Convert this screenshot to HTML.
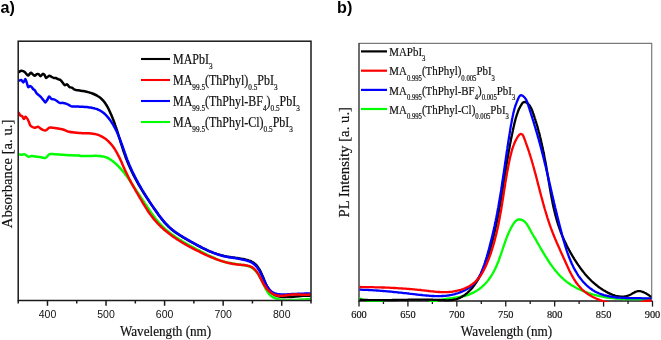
<!DOCTYPE html><html><head><meta charset="utf-8"><title>Absorbance and PL spectra</title><style>html,body{margin:0;padding:0;background:#fff;overflow:hidden;}svg{display:block;will-change:transform;}text[font-family^="Liberation Serif"]{stroke:#111;stroke-width:0.2px;}</style></head><body>
<svg width="661" height="340" viewBox="0 0 661 340">
<rect width="661" height="340" fill="#fff"/>
<text transform="translate(0.45,12.7) scale(0.95,1)" font-family="Liberation Sans, sans-serif" font-weight="bold" font-size="17" fill="#000">a)</text>
<text transform="translate(337.05,12.7) scale(0.95,1)" font-family="Liberation Sans, sans-serif" font-weight="bold" font-size="17" fill="#000">b)</text>
<defs><clipPath id="ca"><rect x="18.5" y="41.5" width="292" height="258.3"/></clipPath><clipPath id="cb"><rect x="359.5" y="43.5" width="292" height="258.4"/></clipPath></defs>
<g clip-path="url(#ca)">
<path d="M18.00,154.50 C18.13,154.50 18.33,154.47 18.90,154.50 C19.47,154.53 20.93,154.71 21.80,154.70 C22.67,154.69 23.68,154.10 24.70,154.40 C25.72,154.70 27.58,156.46 28.60,156.70 C29.62,156.94 30.48,156.03 31.50,156.00 C32.52,155.97 34.09,156.35 35.40,156.50 C36.70,156.65 38.67,156.79 40.20,157.00 C41.73,157.21 44.20,158.34 45.60,157.90 C47.00,157.47 48.12,154.64 49.50,154.10 C50.88,153.56 52.83,154.21 54.80,154.30 C56.77,154.39 60.27,154.56 62.60,154.70 C64.92,154.83 67.77,155.08 70.30,155.20 C72.83,155.32 78.12,155.45 79.50,155.50 L79.5,155.7L80.7,155.9L81.9,156.0L83.1,156.0L84.3,156.1L85.5,156.1L86.7,156.1L87.9,156.0L89.1,156.0L90.3,155.9L91.5,155.9L92.8,155.9L94.0,155.8L95.2,155.8L96.4,155.8L97.6,155.9L98.8,155.9L100.0,156.0L101.2,156.2L102.4,156.4L103.6,156.6L104.7,156.9L105.9,157.3L107.0,157.7L108.1,158.2L109.2,158.8L110.2,159.4L111.2,160.1L112.2,160.8L113.1,161.5L114.1,162.3L115.0,163.1L115.9,163.9L116.8,164.7L117.7,165.5L118.5,166.4L119.3,167.3L120.2,168.1L121.0,169.0L121.8,170.0L122.5,170.9L123.3,171.8L124.1,172.8L124.8,173.7L125.5,174.7L126.2,175.6L127.0,176.6L127.7,177.6L128.4,178.6L129.1,179.6L129.7,180.6L130.4,181.6L131.1,182.6L131.8,183.6L132.4,184.6L133.1,185.6L133.8,186.6L134.4,187.6L135.1,188.6L135.8,189.6L136.4,190.6L137.1,191.6L137.8,192.6L138.4,193.6L139.1,194.6L139.8,195.6L140.4,196.6L141.1,197.6L141.8,198.7L142.4,199.7L143.1,200.7L143.8,201.7L144.4,202.7L145.1,203.7L145.8,204.7L146.5,205.7L147.1,206.7L147.8,207.7L148.5,208.7L149.2,209.7L149.8,210.7L150.5,211.7L151.2,212.7L151.9,213.6L152.6,214.6L153.3,215.6L154.0,216.6L154.8,217.5L155.5,218.5L156.2,219.5L157.0,220.4L157.8,221.3L158.5,222.2L159.3,223.2L160.2,224.0L161.0,224.9L161.8,225.8L162.7,226.6L163.5,227.5L164.4,228.3L165.3,229.1L166.2,229.9L167.2,230.7L168.1,231.5L169.0,232.2L170.0,233.0L170.9,233.7L171.9,234.4L172.9,235.1L173.9,235.8L174.9,236.5L175.8,237.2L176.9,237.9L177.9,238.5L178.9,239.2L179.9,239.8L180.9,240.4L182.0,241.1L183.0,241.7L184.0,242.3L185.1,242.9L186.1,243.5L187.2,244.1L188.2,244.7L189.3,245.3L190.3,245.9L191.4,246.4L192.5,247.0L193.5,247.6L194.6,248.2L195.7,248.7L196.7,249.3L197.8,249.9L198.9,250.4L199.9,251.0L201.0,251.5L202.1,252.1L203.1,252.7L204.2,253.2L205.3,253.8L206.3,254.3L207.4,254.9L208.5,255.4L209.6,256.0L210.7,256.5L211.8,257.0L212.9,257.5L214.0,258.0L215.1,258.5L216.2,259.0L217.3,259.4L218.4,259.8L219.6,260.3L220.7,260.7L221.8,261.0L223.0,261.4L224.1,261.7L225.3,262.1L226.5,262.4L227.7,262.6L228.8,262.9L230.0,263.1L231.2,263.3L232.4,263.5L233.6,263.7L234.8,263.9L236.0,264.1L237.2,264.3L238.4,264.4L239.6,264.6L240.8,264.8L242.0,264.9L243.1,265.1L244.3,265.3L245.5,265.5L246.7,265.7L247.9,266.0L249.0,266.4L250.1,266.9L251.2,267.4L252.3,268.0L253.3,268.7L254.2,269.5L255.1,270.3L255.9,271.2L256.7,272.1L257.4,273.1L258.1,274.0L258.8,275.1L259.4,276.1L260.0,277.1L260.6,278.2L261.1,279.3L261.7,280.3L262.2,281.4L262.7,282.5L263.2,283.6L263.7,284.7L264.2,285.8L264.8,286.9L265.3,288.0L265.9,289.0L266.4,290.1L267.1,291.1L267.7,292.1L268.4,293.1L269.2,294.1L270.0,294.9L270.9,295.7L271.9,296.5L272.9,297.1L273.9,297.7L275.0,298.2L276.2,298.7L277.3,299.0L278.5,299.3L279.7,299.6L280.9,299.8L282.0,299.9L283.3,300.0L284.5,300.1L285.7,300.2L286.9,300.2L288.1,300.2L289.3,300.2L290.5,300.2L291.7,300.2L292.9,300.1L294.1,300.1L295.3,300.0L296.5,299.9L297.7,299.9L298.9,299.8L300.1,299.7L301.3,299.6L302.5,299.6L303.7,299.5L305.0,299.4L306.2,299.3L307.4,299.3L308.6,299.2L309.8,299.2L311.0,299.1" stroke="#0f0" stroke-width="2.5" fill="none" stroke-linejoin="round" stroke-linecap="round"/>
<path d="M18.00,72.20 C18.12,72.17 18.32,72.21 18.80,72.00 C19.28,71.79 20.55,70.94 21.20,70.80 C21.84,70.66 22.55,70.88 23.10,71.10 C23.66,71.32 24.34,71.80 24.90,72.30 C25.45,72.80 26.30,73.92 26.80,74.40 C27.30,74.88 27.70,75.65 28.20,75.50 C28.70,75.35 29.67,73.82 30.10,73.40 C30.54,72.98 30.68,72.55 31.10,72.70 C31.52,72.85 32.34,73.94 32.90,74.40 C33.45,74.87 34.23,75.83 34.80,75.80 C35.37,75.77 36.13,74.44 36.70,74.20 C37.27,73.96 38.03,73.90 38.60,74.20 C39.17,74.50 39.87,76.25 40.50,76.20 C41.13,76.16 42.17,74.07 42.80,73.90 C43.43,73.73 44.21,74.50 44.70,75.10 C45.20,75.70 45.43,77.80 46.10,77.90 C46.77,78.01 48.39,75.97 49.20,75.80 C50.01,75.63 50.80,76.47 51.50,76.80 C52.20,77.13 53.25,77.82 53.90,78.00 C54.55,78.18 55.17,77.82 55.80,78.00 C56.43,78.18 57.40,78.92 58.10,79.20 C58.80,79.48 59.86,79.45 60.50,79.90 C61.14,80.35 61.77,81.42 62.40,82.20 C63.03,82.98 64.00,84.78 64.70,85.10 C65.41,85.41 66.39,84.03 67.10,84.30 C67.80,84.57 68.70,86.39 69.40,86.90 C70.11,87.41 71.09,87.34 71.80,87.70 C72.50,88.06 73.47,88.95 74.10,89.30 C74.73,89.64 75.72,89.89 76.00,90.00 L76.0,90.0L77.2,90.2L78.4,90.3L79.6,90.5L80.8,90.7L82.0,90.9L83.2,91.1L84.4,91.3L85.6,91.5L86.7,91.8L87.9,92.1L89.1,92.4L90.2,92.8L91.4,93.1L92.5,93.5L93.6,94.0L94.7,94.5L95.8,95.0L96.9,95.5L97.9,96.2L98.9,96.8L99.9,97.5L100.9,98.3L101.7,99.1L102.6,100.0L103.4,100.9L104.2,101.8L104.9,102.8L105.6,103.8L106.2,104.8L106.9,105.8L107.5,106.8L108.0,107.9L108.6,109.0L109.1,110.1L109.6,111.2L110.1,112.3L110.6,113.4L111.1,114.5L111.6,115.6L112.0,116.7L112.5,117.8L112.9,118.9L113.4,120.1L113.8,121.2L114.2,122.3L114.6,123.4L115.0,124.6L115.4,125.7L115.8,126.9L116.2,128.0L116.6,129.2L117.0,130.3L117.3,131.5L117.7,132.6L118.1,133.8L118.4,134.9L118.8,136.1L119.1,137.2L119.5,138.4L119.9,139.5L120.2,140.7L120.6,141.8L120.9,143.0L121.3,144.1L121.7,145.3L122.0,146.4L122.4,147.6L122.8,148.7L123.1,149.9L123.5,151.0L123.9,152.2L124.3,153.3L124.7,154.4L125.1,155.6L125.5,156.7L125.9,157.8L126.3,159.0L126.8,160.1L127.2,161.2L127.7,162.3L128.1,163.5L128.6,164.6L129.1,165.7L129.6,166.8L130.1,167.9L130.6,169.0L131.1,170.1L131.6,171.2L132.1,172.2L132.7,173.3L133.2,174.4L133.7,175.5L134.3,176.6L134.9,177.6L135.4,178.7L136.0,179.7L136.6,180.8L137.2,181.9L137.7,182.9L138.3,184.0L138.9,185.0L139.6,186.1L140.2,187.1L140.8,188.1L141.4,189.2L142.0,190.2L142.7,191.2L143.3,192.3L143.9,193.3L144.6,194.3L145.2,195.3L145.9,196.3L146.5,197.3L147.2,198.4L147.9,199.4L148.5,200.4L149.2,201.4L149.9,202.4L150.5,203.4L151.2,204.4L151.9,205.4L152.6,206.4L153.3,207.4L153.9,208.4L154.6,209.3L155.3,210.3L156.0,211.3L156.7,212.3L157.4,213.3L158.1,214.3L158.8,215.2L159.5,216.2L160.3,217.2L161.0,218.1L161.7,219.1L162.5,220.0L163.3,221.0L164.0,221.9L164.8,222.8L165.6,223.7L166.5,224.6L167.3,225.4L168.2,226.3L169.0,227.1L169.9,227.9L170.8,228.7L171.8,229.5L172.7,230.3L173.6,231.0L174.6,231.7L175.6,232.5L176.6,233.2L177.6,233.8L178.6,234.5L179.6,235.2L180.6,235.8L181.6,236.4L182.7,237.1L183.7,237.7L184.7,238.3L185.8,238.9L186.8,239.5L187.9,240.1L188.9,240.7L190.0,241.3L191.0,241.9L192.1,242.4L193.1,243.0L194.2,243.6L195.3,244.2L196.3,244.8L197.4,245.3L198.5,245.9L199.5,246.5L200.6,247.0L201.7,247.5L202.8,248.1L203.8,248.6L204.9,249.1L206.0,249.6L207.1,250.1L208.2,250.6L209.3,251.1L210.4,251.6L211.6,252.0L212.7,252.5L213.8,252.9L215.0,253.3L216.1,253.7L217.2,254.1L218.4,254.4L219.5,254.8L220.7,255.1L221.9,255.4L223.0,255.7L224.2,256.0L225.4,256.2L226.6,256.5L227.8,256.7L229.0,256.9L230.2,257.1L231.3,257.3L232.5,257.4L233.7,257.6L234.9,257.8L236.1,257.9L237.3,258.1L238.5,258.3L239.7,258.5L240.9,258.7L242.1,258.9L243.3,259.1L244.5,259.3L245.6,259.6L246.8,259.9L248.0,260.2L249.1,260.6L250.3,261.0L251.4,261.5L252.4,262.0L253.5,262.7L254.4,263.4L255.3,264.2L256.2,265.0L257.0,265.9L257.7,266.9L258.4,267.9L259.1,268.9L259.7,269.9L260.3,271.0L260.8,272.1L261.3,273.2L261.8,274.3L262.3,275.4L262.8,276.5L263.2,277.6L263.7,278.7L264.1,279.8L264.6,280.9L265.1,282.1L265.5,283.2L266.0,284.3L266.6,285.4L267.1,286.4L267.7,287.5L268.3,288.5L268.9,289.5L269.6,290.5L270.4,291.5L271.2,292.4L272.1,293.2L273.1,293.9L274.1,294.6L275.1,295.1L276.2,295.6L277.4,296.0L278.5,296.3L279.7,296.6L280.9,296.8L282.1,296.9L283.3,297.0L284.5,297.1L285.7,297.1L286.9,297.1L288.1,297.1L289.3,297.1L290.5,297.0L291.8,296.9L293.0,296.8L294.2,296.7L295.4,296.6L296.6,296.4L297.8,296.3L299.0,296.2L300.2,296.0L301.4,295.9L302.6,295.8L303.8,295.8L305.0,295.7L306.2,295.7L307.4,295.7L308.6,295.7L309.8,295.7L311.0,295.8" stroke="#000" stroke-width="2.5" fill="none" stroke-linejoin="round" stroke-linecap="round"/>
<path d="M18.00,80.80 C18.12,80.80 18.32,80.92 18.80,80.80 C19.28,80.68 20.50,79.76 21.20,80.00 C21.90,80.24 22.87,82.54 23.50,82.40 C24.13,82.27 24.90,79.04 25.40,79.10 C25.89,79.16 26.38,81.60 26.80,82.80 C27.22,84.00 27.70,86.60 28.20,87.10 C28.70,87.59 29.53,86.04 30.10,86.10 C30.67,86.16 31.50,87.00 32.00,87.50 C32.49,88.00 32.98,89.00 33.40,89.40 C33.82,89.81 34.38,89.70 34.80,90.20 C35.22,90.70 35.71,92.04 36.20,92.70 C36.70,93.36 37.45,94.02 38.10,94.60 C38.75,95.18 39.93,96.06 40.50,96.60 C41.07,97.14 41.41,97.62 41.90,98.20 C42.39,98.78 43.27,99.87 43.80,100.50 C44.32,101.13 44.89,102.48 45.40,102.40 C45.91,102.33 46.63,100.89 47.20,100.00 C47.77,99.11 48.59,96.68 49.20,96.50 C49.82,96.32 50.55,98.36 51.30,98.80 C52.05,99.23 53.32,99.04 54.20,99.40 C55.09,99.76 56.41,100.67 57.20,101.20 C58.00,101.73 58.62,102.65 59.50,102.90 C60.38,103.16 62.04,102.75 63.10,102.90 C64.17,103.05 65.64,103.54 66.60,103.90 C67.56,104.26 68.70,104.91 69.50,105.30 C70.30,105.69 70.93,106.32 71.90,106.50 C72.88,106.68 75.39,106.50 76.00,106.50 L76.0,106.6L77.2,106.6L78.4,106.6L79.6,106.7L80.8,106.7L82.0,106.8L83.2,106.8L84.4,106.9L85.7,107.0L86.9,107.1L88.1,107.2L89.3,107.4L90.5,107.5L91.6,107.7L92.8,108.0L94.0,108.2L95.2,108.6L96.3,108.9L97.5,109.3L98.6,109.8L99.7,110.3L100.7,110.9L101.7,111.6L102.7,112.2L103.7,113.0L104.6,113.8L105.5,114.6L106.3,115.5L107.1,116.4L107.9,117.3L108.7,118.2L109.4,119.2L110.1,120.1L110.8,121.1L111.5,122.1L112.1,123.1L112.8,124.2L113.4,125.2L114.0,126.3L114.6,127.3L115.1,128.4L115.7,129.5L116.2,130.5L116.7,131.6L117.2,132.7L117.7,133.8L118.2,134.9L118.7,136.1L119.1,137.2L119.6,138.3L120.0,139.4L120.4,140.6L120.8,141.7L121.2,142.8L121.7,144.0L122.1,145.1L122.5,146.2L122.9,147.4L123.3,148.5L123.7,149.7L124.1,150.8L124.5,151.9L124.9,153.1L125.3,154.2L125.7,155.3L126.1,156.5L126.5,157.6L126.9,158.7L127.3,159.9L127.8,161.0L128.2,162.1L128.7,163.2L129.1,164.3L129.6,165.5L130.1,166.6L130.6,167.7L131.1,168.8L131.6,169.9L132.1,171.0L132.6,172.1L133.1,173.1L133.7,174.2L134.2,175.3L134.7,176.4L135.3,177.5L135.8,178.5L136.4,179.6L137.0,180.7L137.6,181.7L138.1,182.8L138.7,183.8L139.3,184.9L139.9,185.9L140.5,187.0L141.1,188.0L141.7,189.1L142.3,190.1L143.0,191.1L143.6,192.2L144.2,193.2L144.9,194.2L145.5,195.3L146.1,196.3L146.8,197.3L147.4,198.3L148.1,199.3L148.8,200.3L149.4,201.3L150.1,202.4L150.8,203.4L151.4,204.4L152.1,205.4L152.8,206.4L153.5,207.4L154.2,208.3L154.8,209.3L155.5,210.3L156.2,211.3L156.9,212.3L157.6,213.3L158.3,214.3L159.0,215.2L159.8,216.2L160.5,217.2L161.2,218.1L162.0,219.1L162.7,220.0L163.5,220.9L164.3,221.9L165.1,222.8L165.9,223.7L166.7,224.5L167.6,225.4L168.4,226.3L169.3,227.1L170.2,227.9L171.1,228.7L172.0,229.5L173.0,230.2L173.9,231.0L174.9,231.7L175.9,232.4L176.9,233.1L177.9,233.7L178.9,234.4L179.9,235.1L180.9,235.7L181.9,236.3L183.0,237.0L184.0,237.6L185.1,238.2L186.1,238.8L187.1,239.4L188.2,240.0L189.2,240.6L190.3,241.2L191.3,241.8L192.4,242.4L193.4,243.0L194.5,243.6L195.5,244.2L196.6,244.7L197.7,245.3L198.7,245.9L199.8,246.5L200.9,247.0L201.9,247.6L203.0,248.1L204.1,248.7L205.2,249.2L206.3,249.7L207.3,250.3L208.4,250.8L209.5,251.3L210.6,251.7L211.8,252.2L212.9,252.7L214.0,253.1L215.1,253.5L216.3,253.9L217.4,254.3L218.6,254.7L219.7,255.0L220.9,255.4L222.0,255.7L223.2,256.0L224.4,256.3L225.6,256.5L226.7,256.8L227.9,257.0L229.1,257.2L230.3,257.4L231.5,257.6L232.7,257.8L233.9,258.0L235.1,258.1L236.3,258.3L237.5,258.5L238.7,258.7L239.8,258.9L241.0,259.2L242.2,259.4L243.4,259.7L244.6,259.9L245.7,260.3L246.9,260.6L248.0,261.0L249.2,261.4L250.3,261.9L251.4,262.4L252.4,263.0L253.4,263.7L254.3,264.4L255.2,265.3L256.1,266.1L256.9,267.0L257.6,268.0L258.3,269.0L259.0,270.0L259.6,271.0L260.1,272.1L260.7,273.2L261.2,274.2L261.8,275.3L262.3,276.4L262.8,277.5L263.3,278.6L263.8,279.7L264.3,280.8L264.8,281.9L265.3,283.0L265.8,284.1L266.4,285.1L267.0,286.2L267.7,287.2L268.4,288.2L269.1,289.2L269.9,290.1L270.8,290.9L271.7,291.7L272.7,292.3L273.8,292.9L274.9,293.4L276.0,293.7L277.2,294.0L278.4,294.2L279.6,294.3L280.8,294.4L282.0,294.5L283.2,294.5L284.4,294.5L285.6,294.5L286.8,294.4L288.0,294.3L289.3,294.3L290.5,294.2L291.7,294.1L292.9,294.1L294.1,294.0L295.3,293.9L296.5,293.9L297.7,293.8L298.9,293.8L300.1,293.8L301.3,293.7L302.5,293.7L303.7,293.7L304.9,293.6L306.1,293.6L307.3,293.6L308.6,293.6L309.8,293.6L311.0,293.6" stroke="#00f" stroke-width="2.5" fill="none" stroke-linejoin="round" stroke-linecap="round"/>
<path d="M18.00,112.60 C18.12,112.64 18.47,112.50 18.80,112.90 C19.13,113.31 19.70,114.80 20.20,115.30 C20.70,115.80 21.53,115.63 22.10,116.20 C22.67,116.77 23.50,119.02 24.00,119.10 C24.50,119.17 24.90,116.78 25.40,116.70 C25.89,116.62 26.80,117.89 27.30,118.60 C27.80,119.30 28.28,120.41 28.70,121.40 C29.12,122.39 29.61,124.39 30.10,125.20 C30.60,126.01 31.36,126.42 32.00,126.80 C32.64,127.17 33.77,127.62 34.40,127.70 C35.03,127.78 35.65,127.44 36.20,127.30 C36.76,127.16 37.45,126.62 38.10,126.80 C38.75,126.98 39.80,128.03 40.50,128.50 C41.20,128.97 42.09,129.59 42.80,129.90 C43.50,130.22 44.55,130.67 45.20,130.60 C45.85,130.53 46.61,129.76 47.10,129.40 C47.59,129.04 48.05,128.47 48.50,128.20 C48.95,127.93 49.16,127.64 50.10,127.60 C51.05,127.55 53.39,127.72 54.80,127.90 C56.21,128.08 58.26,128.56 59.50,128.80 C60.74,129.04 61.68,129.05 63.10,129.50 C64.53,129.95 67.06,131.32 69.00,131.80 C70.94,132.28 74.95,132.56 76.00,132.70 L76.0,132.7L77.2,132.8L78.4,133.0L79.6,133.1L80.8,133.1L82.0,133.2L83.2,133.2L84.4,133.2L85.7,133.2L86.9,133.3L88.1,133.3L89.3,133.3L90.5,133.4L91.7,133.5L92.9,133.7L94.1,133.9L95.3,134.1L96.5,134.4L97.6,134.7L98.7,135.1L99.9,135.6L101.0,136.1L102.0,136.7L103.1,137.3L104.1,137.9L105.1,138.6L106.1,139.3L107.0,140.1L107.9,140.9L108.8,141.7L109.6,142.6L110.5,143.5L111.3,144.4L112.0,145.3L112.8,146.3L113.5,147.2L114.2,148.2L114.8,149.2L115.5,150.3L116.1,151.3L116.7,152.4L117.3,153.4L117.8,154.5L118.4,155.6L118.9,156.6L119.5,157.7L120.0,158.8L120.5,159.9L121.0,161.0L121.5,162.1L122.0,163.2L122.4,164.3L122.9,165.4L123.4,166.6L123.9,167.7L124.4,168.8L124.9,169.9L125.4,171.0L125.9,172.1L126.4,173.2L127.0,174.2L127.5,175.3L128.0,176.4L128.6,177.5L129.1,178.6L129.7,179.6L130.2,180.7L130.8,181.8L131.4,182.9L131.9,183.9L132.5,185.0L133.1,186.0L133.7,187.1L134.3,188.2L134.9,189.2L135.5,190.3L136.1,191.3L136.7,192.4L137.3,193.4L137.9,194.4L138.5,195.5L139.1,196.5L139.7,197.6L140.3,198.6L141.0,199.7L141.6,200.7L142.2,201.7L142.8,202.8L143.4,203.8L144.1,204.8L144.7,205.9L145.3,206.9L146.0,207.9L146.6,208.9L147.3,210.0L148.0,211.0L148.6,212.0L149.3,213.0L150.0,214.0L150.7,214.9L151.4,215.9L152.2,216.9L152.9,217.8L153.6,218.8L154.4,219.7L155.2,220.6L156.0,221.5L156.8,222.4L157.6,223.3L158.5,224.2L159.3,225.1L160.2,225.9L161.0,226.8L161.9,227.6L162.8,228.4L163.7,229.2L164.6,230.0L165.5,230.8L166.5,231.6L167.4,232.3L168.4,233.1L169.3,233.8L170.3,234.5L171.3,235.3L172.2,236.0L173.2,236.7L174.2,237.4L175.2,238.0L176.2,238.7L177.2,239.4L178.2,240.0L179.3,240.7L180.3,241.3L181.3,242.0L182.4,242.6L183.4,243.2L184.4,243.8L185.5,244.4L186.5,245.0L187.6,245.6L188.6,246.2L189.7,246.8L190.8,247.3L191.8,247.9L192.9,248.5L194.0,249.0L195.1,249.6L196.1,250.1L197.2,250.7L198.3,251.2L199.4,251.7L200.5,252.3L201.6,252.8L202.7,253.3L203.7,253.8L204.8,254.3L205.9,254.9L207.0,255.4L208.1,255.8L209.3,256.3L210.4,256.8L211.5,257.3L212.6,257.7L213.7,258.2L214.8,258.6L216.0,259.1L217.1,259.5L218.2,259.9L219.4,260.3L220.5,260.7L221.7,261.0L222.8,261.4L224.0,261.7L225.2,262.1L226.3,262.4L227.5,262.7L228.7,262.9L229.9,263.2L231.1,263.4L232.2,263.7L233.4,263.9L234.6,264.1L235.8,264.3L237.0,264.4L238.2,264.6L239.4,264.7L240.6,264.8L241.8,264.9L243.0,265.0L244.2,265.1L245.4,265.3L246.6,265.4L247.8,265.7L249.0,265.9L250.1,266.3L251.2,266.8L252.3,267.4L253.3,268.1L254.2,268.9L255.1,269.8L255.8,270.7L256.6,271.6L257.3,272.6L257.9,273.6L258.6,274.7L259.2,275.7L259.7,276.8L260.3,277.9L260.9,278.9L261.4,280.0L262.0,281.1L262.5,282.1L263.1,283.2L263.7,284.3L264.3,285.3L265.0,286.3L265.7,287.3L266.4,288.3L267.2,289.2L268.0,290.1L268.9,290.9L269.8,291.8L270.7,292.5L271.7,293.2L272.7,293.8L273.8,294.4L274.9,294.9L276.1,295.2L277.2,295.5L278.4,295.7L279.6,295.8L280.8,295.8L282.1,295.8L283.3,295.7L284.5,295.5L285.7,295.4L286.9,295.2L288.1,295.0L289.3,294.9L290.5,294.7L291.7,294.6L292.9,294.6L294.1,294.5L295.3,294.5L296.5,294.5L297.7,294.5L298.9,294.6L300.1,294.6L301.3,294.7L302.5,294.7L303.7,294.7L305.0,294.8L306.2,294.8L307.4,294.7L308.6,294.7L309.8,294.6L311.0,294.5" stroke="#f00" stroke-width="2.5" fill="none" stroke-linejoin="round" stroke-linecap="round"/>
</g>
<rect x="18.2" y="41.2" width="292.8" height="259.3" fill="none" stroke="#1a1a1a" stroke-width="1.5"/>
<line x1="18.20" y1="300.5" x2="18.20" y2="303.5" stroke="#1a1a1a" stroke-width="1.5"/>
<line x1="47.48" y1="300.5" x2="47.48" y2="305.8" stroke="#1a1a1a" stroke-width="1.5"/>
<line x1="76.76" y1="300.5" x2="76.76" y2="303.5" stroke="#1a1a1a" stroke-width="1.5"/>
<line x1="106.04" y1="300.5" x2="106.04" y2="305.8" stroke="#1a1a1a" stroke-width="1.5"/>
<line x1="135.32" y1="300.5" x2="135.32" y2="303.5" stroke="#1a1a1a" stroke-width="1.5"/>
<line x1="164.60" y1="300.5" x2="164.60" y2="305.8" stroke="#1a1a1a" stroke-width="1.5"/>
<line x1="193.88" y1="300.5" x2="193.88" y2="303.5" stroke="#1a1a1a" stroke-width="1.5"/>
<line x1="223.16" y1="300.5" x2="223.16" y2="305.8" stroke="#1a1a1a" stroke-width="1.5"/>
<line x1="252.44" y1="300.5" x2="252.44" y2="303.5" stroke="#1a1a1a" stroke-width="1.5"/>
<line x1="281.72" y1="300.5" x2="281.72" y2="305.8" stroke="#1a1a1a" stroke-width="1.5"/>
<line x1="311.00" y1="300.5" x2="311.00" y2="303.5" stroke="#1a1a1a" stroke-width="1.5"/>
<text x="47.48" y="317.6" text-anchor="middle" font-family="Liberation Sans, sans-serif" font-size="10.5" fill="#111">400</text>
<text x="106.04" y="317.6" text-anchor="middle" font-family="Liberation Sans, sans-serif" font-size="10.5" fill="#111">500</text>
<text x="164.60" y="317.6" text-anchor="middle" font-family="Liberation Sans, sans-serif" font-size="10.5" fill="#111">600</text>
<text x="223.16" y="317.6" text-anchor="middle" font-family="Liberation Sans, sans-serif" font-size="10.5" fill="#111">700</text>
<text x="281.72" y="317.6" text-anchor="middle" font-family="Liberation Sans, sans-serif" font-size="10.5" fill="#111">800</text>
<text transform="translate(119.9,335.5) scale(0.908,1)" font-family="Liberation Serif, serif" font-size="14.5" fill="#111">Wavelength (nm)</text>
<text transform="translate(12.3,228.2) rotate(-90) scale(1.014,1)" font-family="Liberation Serif, serif" font-size="14.5" fill="#111">Absorbance [a. u.]</text>
<line x1="141" y1="59" x2="170" y2="59" stroke="#000" stroke-width="2.1"/>
<line x1="141" y1="80" x2="170" y2="80" stroke="#f00" stroke-width="2.1"/>
<line x1="141" y1="101" x2="170" y2="101" stroke="#00f" stroke-width="2.1"/>
<line x1="141" y1="122" x2="170" y2="122" stroke="#0f0" stroke-width="2.1"/>
<line x1="359" y1="43.4" x2="652" y2="43.4" stroke="#7a7a7a" stroke-width="1.2"/>
<line x1="651.7" y1="43" x2="651.7" y2="301" stroke="#7a7a7a" stroke-width="1.2"/>
<line x1="359" y1="43" x2="359" y2="301.5" stroke="#4a4a4a" stroke-width="1.6"/>
<line x1="358.5" y1="301" x2="652.3" y2="301" stroke="#1a1a1a" stroke-width="1.5"/>
<line x1="359.00" y1="301" x2="359.00" y2="306.6" stroke="#1a1a1a" stroke-width="1.3"/>
<line x1="383.46" y1="301" x2="383.46" y2="304" stroke="#1a1a1a" stroke-width="1.3"/>
<line x1="407.92" y1="301" x2="407.92" y2="306.6" stroke="#1a1a1a" stroke-width="1.3"/>
<line x1="432.38" y1="301" x2="432.38" y2="304" stroke="#1a1a1a" stroke-width="1.3"/>
<line x1="456.83" y1="301" x2="456.83" y2="306.6" stroke="#1a1a1a" stroke-width="1.3"/>
<line x1="481.29" y1="301" x2="481.29" y2="304" stroke="#1a1a1a" stroke-width="1.3"/>
<line x1="505.75" y1="301" x2="505.75" y2="306.6" stroke="#1a1a1a" stroke-width="1.3"/>
<line x1="530.21" y1="301" x2="530.21" y2="304" stroke="#1a1a1a" stroke-width="1.3"/>
<line x1="554.67" y1="301" x2="554.67" y2="306.6" stroke="#1a1a1a" stroke-width="1.3"/>
<line x1="579.12" y1="301" x2="579.12" y2="304" stroke="#1a1a1a" stroke-width="1.3"/>
<line x1="603.58" y1="301" x2="603.58" y2="306.6" stroke="#1a1a1a" stroke-width="1.3"/>
<line x1="628.04" y1="301" x2="628.04" y2="304" stroke="#1a1a1a" stroke-width="1.3"/>
<line x1="652.50" y1="301" x2="652.50" y2="306.6" stroke="#1a1a1a" stroke-width="1.3"/>
<g clip-path="url(#cb)">
<path d="M359.1,298.1L360.1,298.6L361.2,299.1L362.3,299.6L363.5,299.9L364.7,300.2L365.8,300.5L367.0,300.7L368.2,300.9L369.4,301.1L370.6,301.2L371.8,301.3L373.0,301.4L374.2,301.6L375.4,301.7L376.6,301.8L377.8,301.9L379.0,302.1L380.2,302.2L381.4,302.4L382.6,302.5L383.8,302.7L385.0,302.8L386.2,303.0L387.4,303.2L388.6,303.3L389.8,303.5L391.0,303.6L392.2,303.8L393.4,303.9L394.6,304.1L395.8,304.2L397.0,304.3L398.2,304.5L399.4,304.6L400.6,304.7L401.8,304.8L403.0,304.9L404.2,304.9L405.4,305.0L406.6,305.1L407.8,305.1L409.0,305.1L410.2,305.2L411.4,305.2L412.7,305.1L413.9,305.1L415.1,305.0L416.3,305.0L417.5,304.9L418.7,304.8L419.9,304.6L421.1,304.5L422.3,304.3L423.5,304.1L424.6,303.9L425.8,303.6L427.0,303.3L428.2,303.0L429.3,302.7L430.5,302.4L431.7,302.1L432.8,301.8L434.0,301.5L435.2,301.1L436.3,300.8L437.5,300.5L438.7,300.2L439.8,300.0L441.0,299.7L442.2,299.5L443.4,299.3L444.6,299.1L445.8,298.9L447.0,298.7L448.2,298.6L449.4,298.4L450.6,298.3L451.8,298.1L453.0,298.0L454.2,297.8L455.4,297.7L456.6,297.5L457.7,297.3L458.9,297.1L460.1,296.9L461.3,296.7L462.5,296.5L463.7,296.2L464.8,295.9L466.0,295.6L467.2,295.2L468.3,294.8L469.4,294.4L470.5,293.9L471.6,293.4L472.7,292.9L473.8,292.4L474.9,291.8L475.9,291.2L477.0,290.6L478.0,289.9L479.0,289.2L479.9,288.5L480.9,287.8L481.8,287.0L482.7,286.2L483.6,285.4L484.5,284.5L485.3,283.7L486.1,282.8L486.9,281.9L487.7,280.9L488.4,280.0L489.1,279.0L489.8,278.0L490.5,277.0L491.2,276.0L491.8,275.0L492.4,274.0L493.0,272.9L493.6,271.9L494.2,270.8L494.7,269.7L495.3,268.6L495.8,267.5L496.3,266.4L496.8,265.3L497.2,264.2L497.7,263.1L498.1,262.0L498.6,260.9L499.0,259.7L499.4,258.6L499.8,257.5L500.2,256.3L500.6,255.2L501.0,254.0L501.4,252.9L501.8,251.7L502.2,250.6L502.5,249.5L502.9,248.3L503.3,247.2L503.7,246.0L504.1,244.9L504.5,243.7L504.9,242.6L505.3,241.5L505.7,240.3L506.1,239.2L506.5,238.1L506.9,236.9L507.4,235.8L507.9,234.7L508.3,233.6L508.8,232.5L509.3,231.4L509.9,230.3L510.4,229.2L510.9,228.1L511.5,227.1L512.1,226.0L512.7,225.0L513.4,224.0L514.0,223.0L514.8,222.0L515.6,221.1L516.5,220.3L517.5,219.7L518.7,219.4L519.9,219.5L521.1,219.7L522.2,220.1L523.3,220.7L524.3,221.4L525.2,222.2L526.0,223.1L526.7,224.0L527.4,225.0L528.0,226.0L528.6,227.1L529.2,228.2L529.8,229.2L530.4,230.3L530.9,231.4L531.5,232.4L532.1,233.5L532.7,234.5L533.3,235.5L534.0,236.6L534.6,237.6L535.2,238.7L535.8,239.7L536.4,240.7L537.0,241.8L537.6,242.8L538.2,243.9L538.8,244.9L539.4,246.0L540.0,247.0L540.6,248.1L541.2,249.1L541.8,250.2L542.4,251.2L543.0,252.2L543.7,253.3L544.3,254.3L544.9,255.3L545.5,256.4L546.2,257.4L546.8,258.4L547.5,259.4L548.1,260.5L548.8,261.5L549.4,262.5L550.1,263.5L550.8,264.5L551.5,265.4L552.2,266.4L552.9,267.4L553.7,268.4L554.4,269.3L555.1,270.3L555.9,271.2L556.7,272.1L557.5,273.0L558.3,273.9L559.1,274.8L559.9,275.7L560.8,276.6L561.6,277.4L562.5,278.2L563.4,279.0L564.3,279.8L565.3,280.6L566.2,281.4L567.1,282.1L568.1,282.8L569.1,283.5L570.1,284.2L571.1,284.9L572.1,285.5L573.2,286.1L574.2,286.7L575.3,287.3L576.3,287.9L577.4,288.5L578.5,289.0L579.6,289.5L580.7,290.0L581.8,290.5L582.9,291.0L584.0,291.4L585.1,291.9L586.3,292.3L587.4,292.7L588.5,293.1L589.7,293.4L590.8,293.8L592.0,294.2L593.1,294.5L594.3,294.8L595.5,295.1L596.7,295.4L597.8,295.7L599.0,295.9L600.2,296.2L601.4,296.4L602.6,296.7L603.7,296.9L604.9,297.1L606.1,297.3L607.3,297.5L608.5,297.6L609.7,297.8L610.9,297.9L612.1,298.1L613.3,298.2L614.5,298.3L615.7,298.5L616.9,298.6L618.1,298.7L619.3,298.7L620.5,298.8L621.7,298.9L622.9,299.0L624.1,299.0L625.3,299.1L626.6,299.1L627.8,299.1L629.0,299.2L630.2,299.2L631.4,299.2L632.6,299.2L633.8,299.2L635.0,299.2L636.2,299.2L637.4,299.2L638.6,299.1L639.8,299.1L641.0,299.1L642.2,299.0L643.4,299.0L644.7,298.9L645.9,298.9L647.1,298.8L648.3,298.7L649.5,298.7L650.7,298.6L651.9,298.5" stroke="#0f0" stroke-width="2.3" fill="none" stroke-linejoin="round" stroke-linecap="round"/>
<path d="M359.0,299.7L360.2,299.8L361.4,299.8L362.6,299.9L363.8,299.9L365.0,300.0L366.2,300.0L367.4,300.0L368.6,300.1L369.8,300.1L371.0,300.1L372.2,300.1L373.4,300.1L374.6,300.2L375.9,300.2L377.1,300.2L378.3,300.2L379.5,300.2L380.7,300.2L381.9,300.2L383.1,300.2L384.3,300.1L385.5,300.1L386.7,300.1L387.9,300.1L389.1,300.1L390.3,300.1L391.5,300.1L392.7,300.0L393.9,300.0L395.1,300.0L396.3,300.0L397.5,299.9L398.7,299.9L399.9,299.9L401.1,299.9L402.3,299.9L403.5,299.8L404.7,299.8L406.0,299.8L407.2,299.8L408.4,299.7L409.6,299.7L410.8,299.7L412.0,299.7L413.2,299.7L414.4,299.7L415.6,299.6L416.8,299.6L418.0,299.6L419.2,299.6L420.4,299.6L421.6,299.6L422.8,299.6L424.0,299.6L425.2,299.6L426.4,299.6L427.6,299.7L428.8,299.7L430.0,299.7L431.2,299.7L432.4,299.7L433.6,299.8L434.8,299.8L436.1,299.9L437.3,299.9L438.5,300.0L439.7,300.0L440.9,300.1L442.1,300.1L443.3,300.2L444.5,300.2L445.7,300.3L446.9,300.3L448.1,300.3L449.3,300.2L450.5,300.2L451.7,300.1L452.9,299.9L454.1,299.7L455.2,299.5L456.4,299.2L457.6,298.8L458.7,298.3L459.8,297.9L460.9,297.3L461.9,296.7L462.9,296.1L464.0,295.5L464.9,294.8L465.9,294.0L466.8,293.3L467.7,292.5L468.6,291.7L469.5,290.8L470.3,290.0L471.2,289.1L472.0,288.2L472.7,287.3L473.5,286.3L474.2,285.4L474.9,284.4L475.6,283.4L476.3,282.4L476.9,281.4L477.6,280.4L478.2,279.3L478.8,278.3L479.3,277.2L479.9,276.2L480.4,275.1L481.0,274.0L481.5,272.9L482.0,271.8L482.5,270.7L483.0,269.6L483.4,268.5L483.9,267.4L484.3,266.3L484.8,265.2L485.2,264.0L485.6,262.9L486.1,261.8L486.5,260.7L486.9,259.5L487.3,258.4L487.6,257.2L488.0,256.1L488.4,254.9L488.8,253.8L489.1,252.7L489.5,251.5L489.8,250.3L490.2,249.2L490.5,248.0L490.8,246.9L491.1,245.7L491.5,244.6L491.8,243.4L492.1,242.2L492.4,241.1L492.7,239.9L493.0,238.7L493.3,237.6L493.6,236.4L493.9,235.2L494.1,234.1L494.4,232.9L494.7,231.7L495.0,230.5L495.2,229.4L495.5,228.2L495.7,227.0L496.0,225.8L496.3,224.7L496.5,223.5L496.7,222.3L497.0,221.1L497.2,219.9L497.5,218.8L497.7,217.6L497.9,216.4L498.2,215.2L498.4,214.0L498.6,212.8L498.8,211.7L499.0,210.5L499.3,209.3L499.5,208.1L499.7,206.9L499.9,205.7L500.1,204.6L500.3,203.4L500.5,202.2L500.7,201.0L500.9,199.8L501.1,198.6L501.3,197.4L501.5,196.2L501.7,195.1L501.9,193.9L502.1,192.7L502.3,191.5L502.5,190.3L502.7,189.1L502.9,187.9L503.0,186.7L503.2,185.5L503.4,184.4L503.6,183.2L503.8,182.0L504.0,180.8L504.2,179.6L504.4,178.4L504.5,177.2L504.7,176.0L504.9,174.8L505.1,173.6L505.3,172.5L505.5,171.3L505.7,170.1L505.9,168.9L506.0,167.7L506.2,166.5L506.4,165.3L506.6,164.1L506.8,162.9L507.0,161.8L507.2,160.6L507.4,159.4L507.6,158.2L507.8,157.0L508.0,155.8L508.2,154.6L508.4,153.4L508.6,152.3L508.8,151.1L509.0,149.9L509.3,148.7L509.5,147.5L509.7,146.3L509.9,145.1L510.1,144.0L510.4,142.8L510.6,141.6L510.8,140.4L511.0,139.2L511.3,138.1L511.5,136.9L511.8,135.7L512.0,134.5L512.3,133.3L512.5,132.2L512.8,131.0L513.0,129.8L513.3,128.6L513.5,127.5L513.8,126.3L514.1,125.1L514.3,123.9L514.6,122.8L514.9,121.6L515.2,120.4L515.5,119.3L515.8,118.1L516.2,116.9L516.5,115.8L516.9,114.6L517.3,113.5L517.7,112.4L518.1,111.2L518.6,110.1L519.0,109.0L519.6,107.9L520.1,106.9L520.7,105.8L521.3,104.8L521.9,103.8L522.7,102.8L523.7,102.1L524.8,101.9L526.0,102.3L527.0,102.9L527.9,103.7L528.8,104.5L529.5,105.5L530.2,106.5L530.8,107.5L531.3,108.6L531.8,109.7L532.3,110.8L532.7,111.9L533.1,113.1L533.5,114.2L533.9,115.4L534.3,116.5L534.6,117.6L535.0,118.8L535.4,119.9L535.7,121.1L536.1,122.2L536.4,123.4L536.8,124.5L537.1,125.7L537.5,126.8L537.8,128.0L538.1,129.2L538.4,130.3L538.7,131.5L539.1,132.7L539.4,133.8L539.7,135.0L539.9,136.2L540.2,137.3L540.5,138.5L540.8,139.7L541.1,140.8L541.3,142.0L541.6,143.2L541.9,144.4L542.1,145.5L542.4,146.7L542.6,147.9L542.9,149.1L543.1,150.2L543.4,151.4L543.6,152.6L543.9,153.8L544.1,155.0L544.3,156.1L544.5,157.3L544.8,158.5L545.0,159.7L545.2,160.9L545.4,162.1L545.7,163.3L545.9,164.4L546.1,165.6L546.3,166.8L546.5,168.0L546.7,169.2L546.9,170.4L547.1,171.6L547.3,172.7L547.5,173.9L547.7,175.1L547.9,176.3L548.1,177.5L548.3,178.7L548.5,179.9L548.7,181.1L548.9,182.2L549.1,183.4L549.3,184.6L549.5,185.8L549.7,187.0L549.9,188.2L550.1,189.4L550.3,190.6L550.5,191.7L550.7,192.9L550.9,194.1L551.2,195.3L551.4,196.5L551.6,197.7L551.8,198.8L552.0,200.0L552.3,201.2L552.5,202.4L552.7,203.6L553.0,204.8L553.2,205.9L553.5,207.1L553.8,208.3L554.0,209.5L554.3,210.6L554.6,211.8L554.9,213.0L555.2,214.1L555.4,215.3L555.8,216.5L556.1,217.6L556.4,218.8L556.7,220.0L557.1,221.1L557.4,222.3L557.8,223.4L558.1,224.6L558.5,225.7L558.9,226.8L559.3,228.0L559.7,229.1L560.1,230.2L560.5,231.4L560.9,232.5L561.4,233.6L561.8,234.7L562.3,235.9L562.8,237.0L563.2,238.1L563.7,239.2L564.2,240.3L564.7,241.4L565.3,242.4L565.8,243.5L566.3,244.6L566.8,245.7L567.4,246.8L567.9,247.8L568.5,248.9L569.1,250.0L569.7,251.0L570.2,252.1L570.8,253.1L571.4,254.2L572.0,255.2L572.6,256.2L573.3,257.3L573.9,258.3L574.5,259.3L575.2,260.3L575.8,261.4L576.5,262.4L577.1,263.4L577.8,264.4L578.5,265.4L579.2,266.3L579.9,267.3L580.6,268.3L581.3,269.3L582.0,270.2L582.8,271.2L583.5,272.1L584.3,273.1L585.0,274.0L585.8,274.9L586.6,275.8L587.4,276.7L588.2,277.6L589.1,278.5L589.9,279.3L590.8,280.2L591.6,281.0L592.5,281.8L593.4,282.6L594.3,283.4L595.2,284.2L596.2,285.0L597.1,285.7L598.0,286.5L599.0,287.2L600.0,287.9L601.0,288.6L602.0,289.2L603.0,289.9L604.0,290.5L605.1,291.1L606.1,291.7L607.2,292.3L608.2,292.9L609.3,293.4L610.4,293.9L611.5,294.4L612.6,294.8L613.8,295.2L614.9,295.6L616.1,295.9L617.3,296.1L618.4,296.4L619.6,296.5L620.8,296.6L622.0,296.7L623.2,296.6L624.4,296.5L625.6,296.3L626.8,296.0L628.0,295.7L629.1,295.2L630.2,294.7L631.2,294.2L632.3,293.6L633.3,293.0L634.4,292.4L635.5,291.9L636.6,291.5L637.8,291.2L639.0,291.1L640.2,291.2L641.4,291.5L642.5,291.8L643.6,292.2L644.7,292.8L645.8,293.3L646.8,293.9L647.8,294.6L648.9,295.2L649.9,295.9L650.9,296.5L651.9,297.2L653.0,297.7" stroke="#000" stroke-width="2.3" fill="none" stroke-linejoin="round" stroke-linecap="round"/>
<path d="M359.0,289.7L360.2,289.7L361.4,289.7L362.6,289.8L363.8,289.8L365.0,289.8L366.2,289.9L367.4,289.9L368.6,290.0L369.8,290.1L371.0,290.1L372.2,290.2L373.4,290.3L374.6,290.3L375.8,290.4L377.0,290.5L378.2,290.6L379.5,290.7L380.7,290.8L381.9,290.9L383.1,291.0L384.3,291.1L385.5,291.2L386.7,291.3L387.9,291.4L389.1,291.5L390.3,291.6L391.5,291.7L392.7,291.8L393.9,292.0L395.0,292.1L396.2,292.2L397.4,292.3L398.6,292.5L399.8,292.6L401.0,292.7L402.2,292.8L403.4,293.0L404.6,293.1L405.8,293.2L407.0,293.4L408.2,293.5L409.4,293.7L410.6,293.8L411.8,293.9L413.0,294.1L414.2,294.2L415.4,294.3L416.6,294.5L417.8,294.6L419.0,294.8L420.2,294.9L421.4,295.0L422.6,295.2L423.8,295.3L425.0,295.4L426.2,295.5L427.4,295.6L428.6,295.7L429.8,295.8L431.0,295.9L432.2,296.0L433.4,296.0L434.6,296.1L435.8,296.1L437.0,296.1L438.2,296.1L439.4,296.1L440.6,296.1L441.8,296.0L443.0,296.0L444.2,295.9L445.4,295.8L446.6,295.6L447.8,295.5L449.0,295.3L450.2,295.1L451.4,294.9L452.6,294.6L453.7,294.4L454.9,294.1L456.1,293.7L457.2,293.4L458.4,293.0L459.5,292.6L460.6,292.2L461.7,291.7L462.8,291.2L463.9,290.7L465.0,290.2L466.1,289.6L467.1,289.0L468.1,288.4L469.1,287.7L470.1,287.0L471.1,286.3L472.0,285.5L472.9,284.7L473.8,283.9L474.6,283.0L475.4,282.1L476.2,281.2L476.9,280.2L477.6,279.2L478.2,278.2L478.9,277.2L479.5,276.2L480.0,275.1L480.6,274.0L481.1,272.9L481.6,271.8L482.0,270.7L482.5,269.6L482.9,268.5L483.3,267.3L483.7,266.2L484.1,265.1L484.5,263.9L484.9,262.8L485.2,261.6L485.6,260.5L486.0,259.3L486.3,258.2L486.7,257.0L487.0,255.9L487.3,254.7L487.7,253.5L488.0,252.4L488.3,251.2L488.7,250.1L489.0,248.9L489.3,247.7L489.6,246.6L489.9,245.4L490.2,244.3L490.5,243.1L490.8,241.9L491.1,240.8L491.4,239.6L491.7,238.4L492.0,237.2L492.3,236.1L492.6,234.9L492.8,233.7L493.1,232.6L493.4,231.4L493.6,230.2L493.9,229.0L494.2,227.9L494.4,226.7L494.7,225.5L494.9,224.3L495.2,223.1L495.4,222.0L495.7,220.8L495.9,219.6L496.1,218.4L496.4,217.2L496.6,216.1L496.8,214.9L497.1,213.7L497.3,212.5L497.5,211.3L497.7,210.1L497.9,209.0L498.2,207.8L498.4,206.6L498.6,205.4L498.8,204.2L499.0,203.0L499.2,201.8L499.4,200.6L499.6,199.5L499.8,198.3L500.0,197.1L500.2,195.9L500.4,194.7L500.6,193.5L500.8,192.3L501.0,191.1L501.2,189.9L501.3,188.8L501.5,187.6L501.7,186.4L501.9,185.2L502.1,184.0L502.3,182.8L502.4,181.6L502.6,180.4L502.8,179.2L503.0,178.0L503.2,176.8L503.3,175.7L503.5,174.5L503.7,173.3L503.9,172.1L504.0,170.9L504.2,169.7L504.4,168.5L504.6,167.3L504.7,166.1L504.9,164.9L505.1,163.7L505.3,162.5L505.4,161.4L505.6,160.2L505.8,159.0L506.0,157.8L506.1,156.6L506.3,155.4L506.5,154.2L506.7,153.0L506.8,151.8L507.0,150.6L507.2,149.4L507.4,148.2L507.5,147.0L507.7,145.9L507.9,144.7L508.1,143.5L508.3,142.3L508.4,141.1L508.6,139.9L508.8,138.7L509.0,137.5L509.2,136.3L509.4,135.1L509.6,134.0L509.8,132.8L510.0,131.6L510.1,130.4L510.3,129.2L510.5,128.0L510.7,126.8L510.9,125.6L511.1,124.4L511.4,123.3L511.6,122.1L511.8,120.9L512.0,119.7L512.2,118.5L512.5,117.3L512.7,116.2L513.0,115.0L513.2,113.8L513.5,112.6L513.8,111.5L514.1,110.3L514.4,109.1L514.7,108.0L515.1,106.8L515.5,105.7L515.8,104.5L516.3,103.4L516.7,102.3L517.1,101.2L517.6,100.0L518.1,98.9L518.6,97.8L519.1,96.8L519.8,95.8L520.8,95.2L522.0,95.4L523.0,96.0L523.9,96.8L524.8,97.7L525.5,98.6L526.1,99.6L526.6,100.7L527.1,101.8L527.5,103.0L527.9,104.1L528.3,105.3L528.6,106.4L529.0,107.6L529.4,108.7L529.7,109.8L530.1,111.0L530.5,112.1L530.8,113.3L531.2,114.4L531.6,115.6L531.9,116.7L532.3,117.9L532.6,119.0L533.0,120.2L533.4,121.3L533.7,122.5L534.1,123.6L534.4,124.8L534.8,126.0L535.1,127.1L535.5,128.3L535.8,129.4L536.1,130.6L536.5,131.7L536.8,132.9L537.2,134.0L537.5,135.2L537.8,136.4L538.1,137.5L538.5,138.7L538.8,139.8L539.1,141.0L539.4,142.2L539.8,143.3L540.1,144.5L540.4,145.6L540.7,146.8L541.0,148.0L541.3,149.1L541.6,150.3L541.9,151.5L542.2,152.6L542.5,153.8L542.8,155.0L543.1,156.1L543.4,157.3L543.7,158.5L544.0,159.6L544.3,160.8L544.5,162.0L544.8,163.2L545.1,164.3L545.4,165.5L545.7,166.7L546.0,167.8L546.2,169.0L546.5,170.2L546.8,171.4L547.1,172.5L547.3,173.7L547.6,174.9L547.9,176.1L548.2,177.2L548.4,178.4L548.7,179.6L549.0,180.7L549.2,181.9L549.5,183.1L549.8,184.3L550.1,185.4L550.3,186.6L550.6,187.8L550.9,189.0L551.1,190.1L551.4,191.3L551.7,192.5L552.0,193.7L552.2,194.8L552.5,196.0L552.8,197.2L553.0,198.4L553.3,199.5L553.6,200.7L553.9,201.9L554.1,203.0L554.4,204.2L554.7,205.4L555.0,206.6L555.2,207.7L555.5,208.9L555.8,210.1L556.1,211.3L556.4,212.4L556.6,213.6L556.9,214.8L557.2,215.9L557.5,217.1L557.8,218.3L558.1,219.4L558.4,220.6L558.7,221.8L559.0,223.0L559.3,224.1L559.6,225.3L559.9,226.5L560.2,227.6L560.5,228.8L560.8,229.9L561.1,231.1L561.4,232.3L561.7,233.4L562.0,234.6L562.3,235.8L562.7,236.9L563.0,238.1L563.3,239.2L563.6,240.4L564.0,241.6L564.3,242.7L564.7,243.9L565.0,245.0L565.3,246.2L565.7,247.3L566.1,248.5L566.4,249.6L566.8,250.8L567.2,251.9L567.6,253.1L568.0,254.2L568.4,255.3L568.8,256.5L569.2,257.6L569.7,258.7L570.1,259.8L570.6,260.9L571.1,262.0L571.5,263.1L572.0,264.2L572.6,265.3L573.1,266.4L573.6,267.5L574.2,268.6L574.8,269.6L575.3,270.7L576.0,271.7L576.6,272.7L577.2,273.8L577.9,274.8L578.5,275.8L579.2,276.8L579.9,277.7L580.7,278.7L581.4,279.6L582.2,280.6L582.9,281.5L583.7,282.4L584.6,283.3L585.4,284.1L586.3,285.0L587.2,285.8L588.1,286.6L589.0,287.4L589.9,288.1L590.9,288.8L591.9,289.5L592.9,290.2L593.9,290.8L594.9,291.4L596.0,292.0L597.1,292.5L598.2,293.0L599.3,293.5L600.4,293.9L601.6,294.3L602.7,294.7L603.9,295.1L605.0,295.4L606.2,295.7L607.4,296.0L608.5,296.2L609.7,296.5L610.9,296.7L612.1,296.9L613.3,297.0L614.5,297.2L615.7,297.3L616.9,297.5L618.1,297.6L619.3,297.7L620.5,297.7L621.7,297.8L622.9,297.9L624.1,297.9L625.3,298.0L626.5,298.0L627.7,298.1L628.9,298.1L630.1,298.1L631.3,298.1L632.5,298.2L633.7,298.2L634.9,298.2L636.1,298.2L637.3,298.2L638.5,298.2L639.7,298.2L640.9,298.2L642.1,298.3L643.4,298.3L644.6,298.3L645.8,298.3L647.0,298.4L648.2,298.4L649.4,298.5L650.6,298.6L651.8,298.7" stroke="#00f" stroke-width="2.3" fill="none" stroke-linejoin="round" stroke-linecap="round"/>
<path d="M359.0,287.0L360.2,287.0L361.4,287.1L362.6,287.1L363.8,287.1L365.0,287.1L366.2,287.1L367.4,287.1L368.6,287.1L369.8,287.2L371.0,287.2L372.2,287.2L373.5,287.2L374.7,287.3L375.9,287.3L377.1,287.3L378.3,287.4L379.5,287.4L380.7,287.4L381.9,287.5L383.1,287.5L384.3,287.5L385.5,287.6L386.7,287.6L387.9,287.7L389.1,287.7L390.3,287.8L391.5,287.9L392.7,287.9L393.9,288.0L395.1,288.0L396.3,288.1L397.5,288.2L398.7,288.3L399.9,288.3L401.1,288.4L402.3,288.5L403.5,288.6L404.7,288.7L405.9,288.7L407.1,288.8L408.3,288.9L409.5,289.0L410.7,289.1L411.9,289.2L413.1,289.3L414.3,289.4L415.5,289.6L416.7,289.7L417.9,289.8L419.1,289.9L420.3,290.0L421.5,290.2L422.7,290.3L423.9,290.4L425.1,290.6L426.3,290.7L427.5,290.9L428.7,291.0L429.9,291.1L431.1,291.3L432.3,291.4L433.5,291.5L434.7,291.7L435.9,291.8L437.1,291.9L438.3,292.0L439.5,292.0L440.7,292.1L441.9,292.1L443.1,292.2L444.3,292.2L445.5,292.2L446.7,292.1L447.9,292.1L449.1,292.0L450.3,291.9L451.5,291.8L452.7,291.6L453.9,291.4L455.0,291.2L456.2,291.0L457.4,290.7L458.6,290.4L459.7,290.1L460.9,289.8L462.0,289.4L463.1,289.0L464.3,288.5L465.4,288.1L466.5,287.5L467.6,287.0L468.6,286.5L469.7,285.9L470.7,285.2L471.7,284.6L472.7,283.9L473.6,283.1L474.6,282.4L475.4,281.6L476.3,280.7L477.1,279.9L477.9,279.0L478.7,278.0L479.5,277.1L480.2,276.1L480.9,275.1L481.5,274.1L482.1,273.1L482.8,272.0L483.3,271.0L483.9,269.9L484.4,268.9L485.0,267.8L485.5,266.7L486.0,265.6L486.5,264.5L486.9,263.4L487.4,262.3L487.8,261.2L488.3,260.0L488.7,258.9L489.2,257.8L489.6,256.7L490.0,255.5L490.4,254.4L490.8,253.3L491.2,252.1L491.5,251.0L491.9,249.8L492.3,248.7L492.6,247.5L493.0,246.4L493.3,245.2L493.7,244.1L494.0,242.9L494.3,241.7L494.6,240.6L494.9,239.4L495.2,238.3L495.5,237.1L495.8,235.9L496.1,234.8L496.4,233.6L496.7,232.4L496.9,231.2L497.2,230.1L497.5,228.9L497.7,227.7L498.0,226.5L498.2,225.4L498.5,224.2L498.7,223.0L498.9,221.8L499.2,220.6L499.4,219.4L499.6,218.3L499.8,217.1L500.0,215.9L500.2,214.7L500.5,213.5L500.7,212.3L500.9,211.2L501.1,210.0L501.3,208.8L501.5,207.6L501.7,206.4L501.9,205.2L502.1,204.0L502.2,202.8L502.4,201.7L502.6,200.5L502.8,199.3L503.0,198.1L503.2,196.9L503.4,195.7L503.6,194.5L503.7,193.3L503.9,192.1L504.1,190.9L504.3,189.8L504.5,188.6L504.7,187.4L504.9,186.2L505.1,185.0L505.2,183.8L505.4,182.6L505.6,181.4L505.8,180.2L506.0,179.1L506.2,177.9L506.4,176.7L506.6,175.5L506.8,174.3L507.0,173.1L507.2,171.9L507.5,170.8L507.7,169.6L507.9,168.4L508.1,167.2L508.3,166.0L508.6,164.8L508.8,163.7L509.0,162.5L509.3,161.3L509.5,160.1L509.8,158.9L510.0,157.8L510.3,156.6L510.6,155.4L510.9,154.3L511.2,153.1L511.5,151.9L511.8,150.8L512.1,149.6L512.5,148.5L512.9,147.3L513.3,146.2L513.7,145.1L514.1,143.9L514.6,142.8L515.1,141.7L515.6,140.6L516.2,139.6L516.7,138.5L517.3,137.5L518.0,136.4L518.7,135.5L519.5,134.6L520.5,133.9L521.6,134.1L522.6,134.8L523.2,135.8L523.7,136.9L524.1,138.1L524.6,139.2L525.0,140.3L525.4,141.4L525.8,142.6L526.2,143.7L526.6,144.8L527.0,146.0L527.4,147.1L527.8,148.2L528.2,149.4L528.6,150.5L529.0,151.7L529.3,152.8L529.7,154.0L530.1,155.1L530.4,156.3L530.8,157.4L531.1,158.6L531.5,159.7L531.8,160.9L532.1,162.0L532.5,163.2L532.8,164.3L533.1,165.5L533.5,166.7L533.8,167.8L534.1,169.0L534.4,170.1L534.7,171.3L535.0,172.5L535.4,173.6L535.7,174.8L536.0,176.0L536.3,177.1L536.6,178.3L536.9,179.5L537.2,180.6L537.5,181.8L537.8,182.9L538.1,184.1L538.4,185.3L538.7,186.4L539.0,187.6L539.3,188.8L539.6,189.9L539.9,191.1L540.2,192.3L540.5,193.4L540.8,194.6L541.1,195.8L541.4,196.9L541.8,198.1L542.1,199.3L542.4,200.4L542.7,201.6L543.0,202.7L543.3,203.9L543.7,205.1L544.0,206.2L544.3,207.4L544.6,208.5L545.0,209.7L545.3,210.8L545.7,212.0L546.0,213.2L546.4,214.3L546.7,215.5L547.1,216.6L547.4,217.8L547.8,218.9L548.2,220.0L548.5,221.2L548.9,222.3L549.3,223.5L549.7,224.6L550.1,225.7L550.5,226.9L550.9,228.0L551.3,229.1L551.8,230.3L552.2,231.4L552.6,232.5L553.1,233.6L553.5,234.8L554.0,235.9L554.4,237.0L554.9,238.1L555.3,239.2L555.8,240.3L556.3,241.4L556.7,242.5L557.2,243.6L557.7,244.7L558.2,245.8L558.7,246.9L559.2,248.0L559.7,249.1L560.1,250.2L560.6,251.3L561.1,252.4L561.6,253.5L562.1,254.6L562.6,255.7L563.1,256.8L563.6,257.9L564.1,259.0L564.6,260.1L565.1,261.2L565.6,262.3L566.1,263.4L566.6,264.5L567.1,265.6L567.6,266.7L568.1,267.8L568.6,268.9L569.1,270.0L569.6,271.1L570.2,272.1L570.7,273.2L571.3,274.3L571.8,275.3L572.4,276.4L573.0,277.4L573.6,278.5L574.2,279.5L574.9,280.5L575.5,281.5L576.2,282.5L576.9,283.5L577.7,284.5L578.4,285.4L579.2,286.3L580.0,287.2L580.8,288.1L581.6,289.0L582.5,289.8L583.4,290.6L584.3,291.4L585.3,292.1L586.2,292.8L587.2,293.5L588.2,294.2L589.2,294.9L590.3,295.5L591.3,296.1L592.4,296.7L593.4,297.2L594.5,297.7L595.6,298.3L596.7,298.8L597.8,299.2L598.9,299.7L600.0,300.1L601.2,300.5L602.3,300.9L603.5,301.3L604.6,301.7L605.8,302.0L606.9,302.3L608.1,302.7L609.2,303.0L610.4,303.2L611.6,303.5L612.8,303.8L613.9,304.0L615.1,304.2L616.3,304.4L617.5,304.6L618.7,304.8L619.9,304.9L621.1,305.0L622.3,305.1L623.5,305.1L624.7,305.2L625.9,305.2L627.1,305.2L628.3,305.1L629.5,305.0L630.7,304.9L631.9,304.8L633.1,304.6L634.3,304.4L635.5,304.1L636.6,303.8L637.8,303.5L638.9,303.2L640.1,302.8L641.2,302.4L642.4,302.0L643.5,301.7L644.7,301.3L645.8,301.0L647.0,300.8L648.2,300.6L649.4,300.5L650.6,300.6L651.8,300.7L653.0,300.9" stroke="#f00" stroke-width="2.3" fill="none" stroke-linejoin="round" stroke-linecap="round"/>
</g>
<text transform="translate(359.00,318.4) scale(0.91,1)" text-anchor="middle" font-family="Liberation Serif, serif" font-size="11.4" fill="#111">600</text>
<text transform="translate(407.92,318.4) scale(0.91,1)" text-anchor="middle" font-family="Liberation Serif, serif" font-size="11.4" fill="#111">650</text>
<text transform="translate(456.83,318.4) scale(0.91,1)" text-anchor="middle" font-family="Liberation Serif, serif" font-size="11.4" fill="#111">700</text>
<text transform="translate(505.75,318.4) scale(0.91,1)" text-anchor="middle" font-family="Liberation Serif, serif" font-size="11.4" fill="#111">750</text>
<text transform="translate(554.67,318.4) scale(0.91,1)" text-anchor="middle" font-family="Liberation Serif, serif" font-size="11.4" fill="#111">800</text>
<text transform="translate(603.58,318.4) scale(0.91,1)" text-anchor="middle" font-family="Liberation Serif, serif" font-size="11.4" fill="#111">850</text>
<text transform="translate(652.50,318.4) scale(0.91,1)" text-anchor="middle" font-family="Liberation Serif, serif" font-size="11.4" fill="#111">900</text>
<text transform="translate(460.8,335.5) scale(0.908,1)" font-family="Liberation Serif, serif" font-size="14.5" fill="#111">Wavelength (nm)</text>
<text transform="translate(349.2,217.5) rotate(-90) scale(1.018,1)" font-family="Liberation Serif, serif" font-size="14.5" fill="#111">PL Intensity [a. u.]</text>
<line x1="361" y1="51.4" x2="387" y2="51.4" stroke="#000" stroke-width="2.2"/>
<line x1="361" y1="70.7" x2="387" y2="70.7" stroke="#f00" stroke-width="2.2"/>
<line x1="361" y1="89.9" x2="387" y2="89.9" stroke="#00f" stroke-width="2.2"/>
<line x1="361" y1="109.0" x2="387" y2="109.0" stroke="#0f0" stroke-width="2.2"/>
<text transform="translate(173.00,64.00) scale(0.856,1)" font-family="Liberation Serif, serif" font-size="14" fill="#111"><tspan dy="0.00">MAPbI</tspan><tspan font-size="8.5" dy="5.40">3</tspan></text>
<text transform="translate(173.00,85.00) scale(0.856,1)" font-family="Liberation Serif, serif" font-size="14" fill="#111"><tspan dy="0.00">MA</tspan><tspan font-size="8.5" dy="5.40">99.5</tspan><tspan dy="-5.40">(ThPhyl)</tspan><tspan font-size="8.5" dy="5.40">0.5</tspan><tspan dy="-5.40">PbI</tspan><tspan font-size="8.5" dy="5.40">3</tspan></text>
<text transform="translate(173.00,106.00) scale(0.856,1)" font-family="Liberation Serif, serif" font-size="14" fill="#111"><tspan dy="0.00">MA</tspan><tspan font-size="8.5" dy="5.40">99.5</tspan><tspan dy="-5.40">(ThPhyl-BF</tspan><tspan font-size="8.5" dy="5.40">4</tspan><tspan dy="-5.40">)</tspan><tspan font-size="8.5" dy="5.40">0.5</tspan><tspan dy="-5.40">PbI</tspan><tspan font-size="8.5" dy="5.40">3</tspan></text>
<text transform="translate(173.00,127.00) scale(0.856,1)" font-family="Liberation Serif, serif" font-size="14" fill="#111"><tspan dy="0.00">MA</tspan><tspan font-size="8.5" dy="5.40">99.5</tspan><tspan dy="-5.40">(ThPhyl-Cl)</tspan><tspan font-size="8.5" dy="5.40">0.5</tspan><tspan dy="-5.40">PbI</tspan><tspan font-size="8.5" dy="5.40">3</tspan></text>
<text transform="translate(389.30,55.90) scale(0.860,1)" font-family="Liberation Serif, serif" font-size="12.7" fill="#111"><tspan dy="0.00">MAPbI</tspan><tspan font-size="7.8" dy="5.30">3</tspan></text>
<text transform="translate(389.30,75.20) scale(0.860,1)" font-family="Liberation Serif, serif" font-size="12.7" fill="#111"><tspan dy="0.00">MA</tspan><tspan font-size="7.8" dy="5.30">0.995</tspan><tspan dy="-5.30">(ThPhyl)</tspan><tspan font-size="7.8" dy="5.30">0.005</tspan><tspan dy="-5.30">PbI</tspan><tspan font-size="7.8" dy="5.30">3</tspan></text>
<text transform="translate(389.30,94.50) scale(0.860,1)" font-family="Liberation Serif, serif" font-size="12.7" fill="#111"><tspan dy="0.00">MA</tspan><tspan font-size="7.8" dy="5.30">0.995</tspan><tspan dy="-5.30">(ThPhyl-BF</tspan><tspan font-size="7.8" dy="5.30">4</tspan><tspan dy="-5.30">)</tspan><tspan font-size="7.8" dy="5.30">0.005</tspan><tspan dy="-5.30">PbI</tspan><tspan font-size="7.8" dy="5.30">3</tspan></text>
<text transform="translate(389.30,113.80) scale(0.860,1)" font-family="Liberation Serif, serif" font-size="12.7" fill="#111"><tspan dy="0.00">MA</tspan><tspan font-size="7.8" dy="5.30">0.995</tspan><tspan dy="-5.30">(ThPhyl-Cl)</tspan><tspan font-size="7.8" dy="5.30">0.005</tspan><tspan dy="-5.30">PbI</tspan><tspan font-size="7.8" dy="5.30">3</tspan></text>
</svg></body></html>
